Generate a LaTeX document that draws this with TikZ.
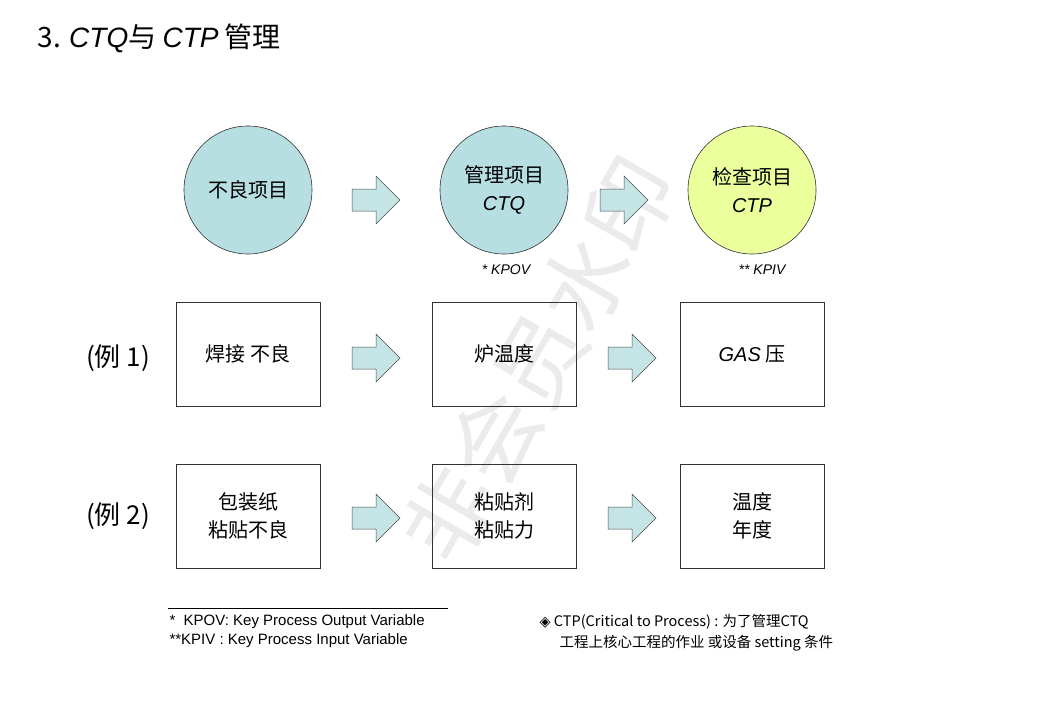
\documentclass[tikz,border=0pt]{standalone}
\usepackage{fontspec}
\setmainfont{Liberation Sans}
\newfontfamily\cjk{Noto Sans CJK SC}
\newfontfamily\djv{DejaVu Sans}
\newcommand{\lit}[1]{{\rmfamily\itshape #1}}
\definecolor{cblue}{HTML}{B7DEE1}
\definecolor{cyel}{HTML}{EBFF9C}
\definecolor{ablue}{HTML}{C4E4E6}
\newcommand{\blockarrow}[3]{%
  \coordinate (#1) at (#2,#3);
  \draw[draw=black!70,fill=ablue,line width=0.5pt] ([shift={(-24,-11)}]#1) -- ([shift={(0,-11)}]#1) -- ([shift={(0,-24)}]#1) -- ([shift={(24,0)}]#1) -- ([shift={(0,24)}]#1) -- ([shift={(0,11)}]#1) -- ([shift={(-24,11)}]#1) -- cycle;}
\begin{document}
\begin{tikzpicture}[x=1pt,y=-1pt,
  circ/.style={circle,draw=black!80,line width=0.6pt,minimum size=128pt,inner sep=0pt,align=center,font=\cjk\fontsize{20}{28}\selectfont},
  bx/.style={draw=black!80,line width=0.6pt,minimum width=144pt,minimum height=104pt,align=center,font=\cjk\fontsize{20}{28}\selectfont},
  lbl/.style={font=\cjk\fontsize{26}{30}\selectfont},
  small/.style={font=\fontsize{15}{17}\selectfont,anchor=west}]
\useasboundingbox (0,0) rectangle (1040,720);
\fill[white] (0,0) rectangle (1040,720);
\node[text=black!8,rotate=60,font=\cjk\fontsize{90}{90}\selectfont] (wm) at (540,360) {非会员水印};
\node[anchor=west,font=\cjk\fontsize{28}{32}\selectfont] (title) at (34,38) {3. \lit{CTQ}与 \lit{CTP} 管理};
\node[circ,fill=cblue] (c1) at (248,190) {不良项目};
\node[circ,fill=cblue] (c2) at (504,190) {管理项目\\\lit{CTQ}};
\node[circ,fill=cyel] (c3) at (752,190) {检查项目\\\lit{CTP}};
\node[font=\itshape\fontsize{14}{16}\selectfont] (k1) at (506,270) {* KPOV};
\node[font=\itshape\fontsize{14}{16}\selectfont] (k2) at (762,270) {** KPIV};
\blockarrow{a1}{376}{200}
\blockarrow{a2}{624}{200}
\node[lbl] (e1) at (118,358) {(例 1)};
\node[bx] (b11) at (248,354) {焊接 不良};
\node[bx] (b12) at (504,354) {炉温度};
\node[bx] (b13) at (752,354) {\lit{GAS} 压};
\blockarrow{a3}{376}{358}
\blockarrow{a4}{632}{358}
\node[lbl] (e2) at (118,516) {(例 2)};
\node[bx] (b21) at (248,516) {包装纸\\粘贴不良};
\node[bx] (b22) at (504,516) {粘贴剂\\粘贴力};
\node[bx] (b23) at (752,516) {温度\\年度};
\blockarrow{a5}{376}{518}
\blockarrow{a6}{632}{518}
\coordinate (l1) at (168,608); \coordinate (l2) at (448,608);
\draw[line width=0.6pt] (l1) -- (l2);
\node[small] (f1) at (166,622) {*\ \ KPOV: Key Process Output Variable};
\node[small] (f2) at (166,641) {**KPIV : Key Process Input Variable};
\node[small,font=\cjk\fontsize{14.5}{17}\selectfont] (f3) at (536,622) {{\djv ◈} CTP(Critical to Process) : 为了管理CTQ};
\node[small,font=\cjk\fontsize{14.5}{17}\selectfont] (f4) at (556,643) {工程上核心工程的作业 或设备 setting 条件};
\end{tikzpicture}
\end{document}
